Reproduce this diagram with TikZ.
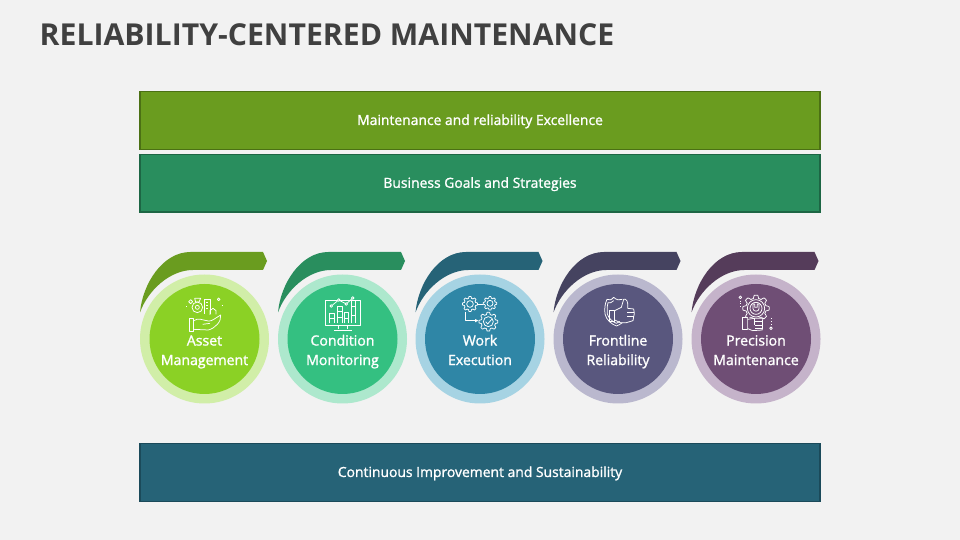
\documentclass[tikz,border=0pt]{standalone}
\usepackage{fontspec}
\setmainfont{Open Sans}
\newfontfamily\labelfont[FakeBold=1.3]{Open Sans}
\usetikzlibrary{positioning}
\definecolor{pagebg}{HTML}{F2F2F2}
\definecolor{titlegray}{HTML}{404040}
\definecolor{barA}{HTML}{6A9C1F}
\definecolor{barAline}{HTML}{4B7014}
\definecolor{barB}{HTML}{298E5E}
\definecolor{barBline}{HTML}{1D6644}
\definecolor{barC}{HTML}{266377}
\definecolor{barCline}{HTML}{1B4A5A}
\definecolor{discA}{HTML}{8BD125}
\definecolor{ringA}{HTML}{D1EEA8}
\definecolor{discB}{HTML}{34C081}
\definecolor{ringB}{HTML}{ADE8CD}
\definecolor{discC}{HTML}{2F86A6}
\definecolor{ringC}{HTML}{A6D3E3}
\definecolor{discD}{HTML}{59577E}
\definecolor{ringD}{HTML}{BAB8CE}
\definecolor{discE}{HTML}{6F4E75}
\definecolor{ringE}{HTML}{C5B3CA}
\definecolor{ribD}{HTML}{454360}
\definecolor{ribE}{HTML}{553C5A}
\tikzset{
  wideband/.style={draw=#1, line width=1.2pt, minimum width=680pt, minimum height=57.4pt,
    text=white, font=\labelfont\fontsize{13.9}{17}\selectfont, inner sep=0pt, text height=12pt, text depth=3pt},
  ringdisc/.style={circle, fill=#1, minimum size=129pt, inner sep=0pt},
  innerdisc/.style={circle, fill=#1, minimum size=110pt, inner sep=0pt},
  disclabel/.style={text=white, align=center, font=\labelfont\fontsize{14.1}{19.5}\selectfont, inner sep=0pt},
  iconline/.style={draw=white, line width=0.75pt, fill=none, line join=round}
}
\newcommand{\ribbon}[2]{% centre, colour
  \begin{scope}[shift={(#1)}]
  \fill[#2] (-64.5,26.5) .. controls (-62,55) and (-42,87) .. (-14,87)
    -- (58.5,87) -- (62.5,78) -- (58.5,69) -- (-11.5,69)
    .. controls (-35,69) and (-57,48) .. (-64.5,26.5) -- cycle;
  \end{scope}
}
\newcommand{\gearpath}[3]{% x, y, radius
  \draw[iconline, shift={(#1,#2)}] plot[samples=97, domain=0:360] (\x:{#3*(1+.13*sign(cos(8*\x)))}) -- cycle;
}
\begin{document}
\begin{tikzpicture}[x=1pt,y=1pt]
\useasboundingbox[fill=pagebg] (0,0) rectangle (960,540);

% title
\node[anchor=west, text=titlegray, inner sep=0pt, font=\fontsize{30.2}{36}\selectfont\bfseries] (heading) at (39.5,505.5) {RELIABILITY-CENTERED MAINTENANCE};

% bands
\node[wideband=barAline, fill=barA] (excellence) at (480,419.5) {Maintenance and reliability Excellence};
\node[wideband=barBline, fill=barB] (goals) at (480,356.7) {Business Goals and Strategies};
\node[wideband=barCline, fill=barC] (improve) at (480,67.5) {Continuous Improvement and Sustainability};

% discs
\coordinate (c1) at (204.5,201);
\coordinate (c2) at (342.5,201);
\coordinate (c3) at (480,201);
\coordinate (c4) at (618,201);
\coordinate (c5) at (756,201);

\ribbon{c1}{barA}
\ribbon{c2}{barB}
\ribbon{c3}{barC}
\ribbon{c4}{ribD}
\ribbon{c5}{ribE}

\foreach \pos/\ca/\cb in {c1/discA/ringA,c2/discB/ringB,c3/discC/ringC,c4/discD/ringD,c5/discE/ringE}{
  \node[ringdisc=\cb] (ring\pos) at (\pos) {};
  \node[innerdisc=\ca] (disc\pos) at (\pos) {};
}

% labels
\node[disclabel] (asset) at (204.5,188.6) {\strut Asset\\\strut Management};
\node[disclabel] (condition) at (342.5,188.6) {\strut Condition\\\strut Monitoring};
\node[disclabel] (work) at (480,188.6) {\strut Work\\\strut Execution};
\node[disclabel] (frontline) at (618,188.6) {\strut Frontline\\\strut Reliability};
\node[disclabel] (precision) at (756,188.6) {\strut Precision\\\strut Maintenance};

% asset icon
\begin{scope}[shift={(180,250)},x=0.3333pt,y=-0.3333pt]
\draw[iconline] (28,85) rectangle (40,125);
\draw[iconline] (40,93) .. controls (55,82) and (65,90) .. (85,93) .. controls (95,95) and (105,85) .. (122,75)
  .. controls (125,95) and (105,115) .. (85,120) -- (40,118);
\draw[iconline] (68,103) -- (90,100);
\draw[iconline] (52,52) circle (16);
\draw[iconline] (44,25) -- (62,25) -- (57,36) -- (47,36) -- cycle;
\draw[iconline] (52,52) circle (6);
\draw[iconline] (72,72) -- (72,27) -- (90,27) -- (90,72);
\draw[iconline] (78,36) -- (85,36) (78,46) -- (85,46) (78,56) -- (85,56);
\draw[iconline] (90,75) -- (90,62) -- (99,55) -- (108,62) -- (108,73);
\draw[iconline] (26,35) -- (32,29) -- (38,35) -- (32,41) -- cycle;
\draw[iconline] (112,28) -- (116,24) -- (120,28) -- (116,32) -- cycle;
\draw[iconline] (18,50) -- (22,50) (125,45) -- (129,45);
\end{scope}

% condition icon
\begin{scope}[shift={(318,250)},x=0.3333pt,y=-0.3333pt]
\draw[iconline] (21,30) rectangle (128,105);
\draw[iconline] (62,105) -- (62,118) (88,105) -- (88,118) (48,120) -- (102,120);
\draw[iconline] (35,100) |- (50,70) -- (50,100) (35,85) -- (50,85);
\draw[iconline] (58,100) |- (72,50) -- (72,100) (58,65) -- (72,65) (58,82) -- (72,82);
\draw[iconline] (80,100) |- (92,68) -- (92,100) (80,84) -- (92,84);
\draw[iconline] (100,100) |- (112,30) -- (112,100) (100,50) -- (112,50) (100,75) -- (112,75);
\draw[iconline] (40,48) -- (62,30) -- (85,42) -- (104,24);
\foreach \px/\py in {40/48,62/30,85/42,104/24}{
  \filldraw[iconline, fill=discB] (\px,\py) circle (4);
}
\end{scope}

% work icon
\begin{scope}[shift={(455,250)},x=0.3333pt,y=-0.3333pt]
\gearpath{45}{42}{20}
\draw[iconline] (45,42) circle (10);
\gearpath{105}{40}{18}
\draw[iconline] (105,40) circle (9);
\gearpath{100}{95}{25}
\draw[iconline] (100,95) circle (15);
\draw[iconline] (92,95) -- (98,102) -- (110,88);
\draw[iconline] (66,42) -- (85,42);
\draw[iconline] (32,66) -- (32,92) -- (60,92);
\fill[white] (60,87) -- (70,92) -- (60,97) -- cycle;
\end{scope}

% frontline icon
\begin{scope}[shift={(593,250)},x=0.3333pt,y=-0.3333pt]
\draw[iconline] (88,28) .. controls (80,32) and (70,30) .. (62,22) .. controls (56,30) and (48,32) .. (42,28)
  .. controls (36,40) and (34,55) .. (36,72) .. controls (40,90) and (55,102) .. (70,108) .. controls (76,106) and (82,103) .. (88,98);
\draw[iconline] (62,32) .. controls (56,38) and (50,40) .. (45,38) .. controls (42,50) and (42,60) .. (43,72)
  .. controls (47,85) and (58,95) .. (70,100) .. controls (74,98) and (78,96) .. (80,94);
\draw[iconline] (50,60) rectangle (65,95);
\draw[iconline] (65,62) -- (85,52) -- (92,28) .. controls (100,26) and (106,32) .. (104,55) -- (122,57)
  -- (124,70) -- (120,92) -- (100,98) -- (82,98) -- (65,90);
\draw[iconline] (102,68) -- (124,68) (102,80) -- (122,80);
\end{scope}

% precision icon
\begin{scope}[shift={(731,250)},x=0.3333pt,y=-0.3333pt]
\gearpath{75}{55}{35}
\draw[iconline] (75,55) circle (26);
\draw[iconline] (75,55) circle (18);
\draw[iconline] (66,42) -- (66,56) .. controls (66,66) and (84,66) .. (84,56) -- (84,42) -- (79,42) -- (79,52) -- (71,52) -- (71,42) -- cycle;
\draw[iconline] (33,82) rectangle (50,118);
\fill[discE] (50,84) -- (95,84) -- (95,122) -- (50,118) -- cycle;
\draw[iconline] (50,88) -- (70,85) -- (95,85) -- (94,120) -- (65,122) -- (50,116);
\draw[iconline] (70,85) -- (70,105) (72,95) -- (94,95) (72,105) -- (94,105) (72,114) -- (94,114);
\draw[iconline] (28,22) circle (4);
\draw[iconline, dotted] (28,32) -- (28,52);
\draw[iconline] (120,115) circle (4);
\draw[iconline, dotted] (120,85) -- (120,106);
\end{scope}
\end{tikzpicture}
\end{document}
